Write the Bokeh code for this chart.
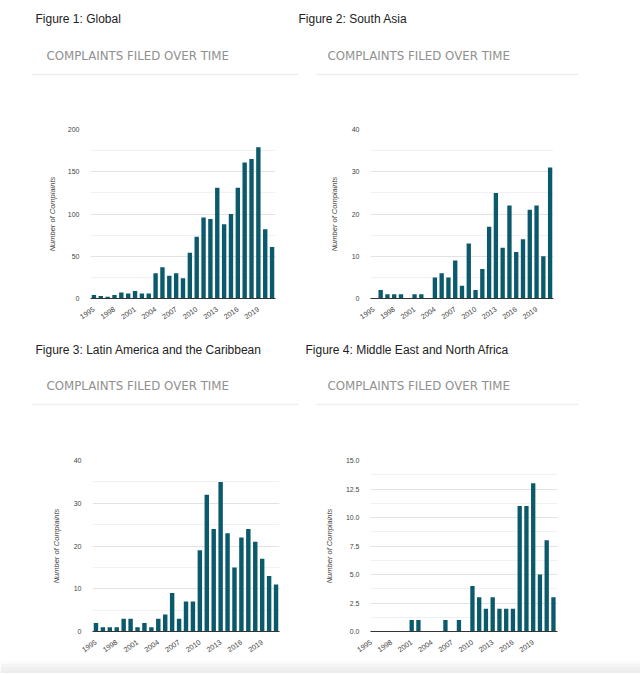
import math
from bokeh.plotting import figure
from bokeh.models import ColumnDataSource, FixedTicker, SingleIntervalTicker, NumeralTickFormatter, Range1d
from bokeh.layouts import column, row
from bokeh.embed import file_html
from bokeh.resources import INLINE
from bokeh.core.properties import value

# ---------------- data ----------------
years_1995_2021 = list(range(1995, 2022))
years_1995_2022 = list(range(1995, 2023))
global_counts = [4, 3, 2, 4, 7, 6, 9, 6, 6, 30, 37, 27, 30, 24, 54, 73, 96, 94, 131, 88, 100, 131, 161, 165, 179, 82, 61]
south_asia_counts = [0, 2, 1, 1, 1, 0, 1, 1, 0, 5, 6, 5, 9, 3, 13, 2, 7, 17, 25, 12, 22, 11, 14, 21, 22, 10, 31]
latam_counts = [2, 1, 1, 1, 3, 3, 1, 2, 1, 3, 4, 9, 3, 7, 7, 19, 32, 24, 35, 23, 15, 22, 24, 21, 17, 13, 11]
mena_counts = [0, 0, 0, 0, 0, 0, 1, 1, 0, 0, 0, 1, 0, 1, 0, 4, 3, 2, 3, 2, 2, 2, 11, 11, 13, 5, 8, 3]
x_tick_years = [1995, 1998, 2001, 2004, 2007, 2010, 2013, 2016, 2019]

captions_top = ["Figure 1: Global", "Figure 2: South Asia"]
captions_bottom = ["Figure 3: Latin America and the Caribbean", "Figure 4: Middle East and North Africa"]
subtitle = "COMPLAINTS FILED OVER TIME"
y_axis_title = "Number of Complaints"

BAR = "#0b5a6b"
TXT = "#444444"
W = 640
footer_shades = ["#fbfbfb", "#f5f5f5", "#f0f0f0", "#ececec"]


def make_header(height, y_top, cap_x, cap_y, sub_x, sub_y, line_x0, line_x1, line_y, captions):
    h = figure(width=W, height=height, x_range=Range1d(0, W), y_range=Range1d(y_top + height, y_top),
               x_axis_type=None, y_axis_type=None, min_border=0, toolbar_location=None,
               output_backend="svg")
    h.outline_line_color = None
    h.grid.visible = False
    h.text(x=cap_x, y=[cap_y] * len(cap_x), text=captions, text_font=value("Liberation Sans"),
           text_font_size="12px", text_color="#222222", text_baseline="middle", text_align="left")
    h.text(x=sub_x, y=[sub_y] * len(sub_x), text=[subtitle] * len(sub_x), text_font=value("DejaVu Sans"),
           text_font_size="11.8px", text_color="#909090", text_baseline="middle", text_align="left")
    h.segment(x0=line_x0, y0=[line_y] * len(line_x0), x1=line_x1, y1=[line_y] * len(line_x1),
              line_color="#ededed", line_width=1.5)
    return h


def make_chart(years, counts, y_max, y_interval, x_range, width, height, bl, br, bt, bb,
               label_standoff, fmt=None):
    src = ColumnDataSource(data=dict(year=years, count=counts))
    p = figure(width=width, height=height, x_range=Range1d(*x_range), y_range=Range1d(0, y_max),
               output_backend="svg", toolbar_location=None,
               min_border_left=bl, min_border_right=br, min_border_top=bt, min_border_bottom=bb)
    p.vbar(x="year", top="count", width=0.64, source=src, fill_color=BAR, line_color=None)
    p.outline_line_color = None
    p.xgrid.visible = False
    p.ygrid.grid_line_color = "#e2e2e2"
    p.ygrid.minor_grid_line_color = "#f1f1f1"
    yt = SingleIntervalTicker(interval=y_interval, num_minor_ticks=2)
    p.yaxis.ticker = yt
    p.ygrid.ticker = yt
    if fmt:
        p.yaxis.formatter = NumeralTickFormatter(format=fmt)
    p.yaxis.axis_line_color = None
    p.yaxis.major_tick_line_color = None
    p.yaxis.minor_tick_line_color = None
    p.yaxis.major_label_text_font = "Liberation Sans"
    p.yaxis.major_label_text_font_size = "7px"
    p.yaxis.major_label_text_color = TXT
    p.yaxis.major_label_standoff = 5
    p.yaxis.axis_label = y_axis_title
    p.yaxis.axis_label_text_font = "Liberation Sans"
    p.yaxis.axis_label_text_font_style = "italic"
    p.yaxis.axis_label_text_font_size = "7.5px"
    p.yaxis.axis_label_text_color = TXT
    p.yaxis.axis_label_standoff = label_standoff

    p.xaxis.ticker = FixedTicker(ticks=x_tick_years)
    p.xaxis.major_label_orientation = 0.6
    p.xaxis.major_label_text_font = "Liberation Sans"
    p.xaxis.major_label_text_font_size = "7.2px"
    p.xaxis.major_label_text_color = TXT
    p.xaxis.major_tick_line_color = None
    p.xaxis.minor_tick_line_color = None
    p.xaxis.axis_line_color = "#333333"
    p.xaxis.major_label_standoff = 4
    return p


header_top = make_header(90, 0, cap_x=[35, 298], cap_y=18, sub_x=[46, 327], sub_y=55,
                         line_x0=[32, 316], line_x1=[298, 578], line_y=74, captions=captions_top)
c1 = make_chart(years_1995_2021, global_counts, 200, 50, (1994.5, 2021.5), 310, 248, 90, 35, 39, 39, 8)
c2 = make_chart(years_1995_2021, south_asia_counts, 40, 10, (1994.5, 2021.5), 330, 248, 60, 87, 39, 40, 10)
header_bottom = make_header(82, 338, cap_x=[35, 305], cap_y=349, sub_x=[46, 327], sub_y=385,
                            line_x0=[32, 316], line_x1=[298, 578], line_y=404, captions=captions_bottom)
c3 = make_chart(years_1995_2021, latam_counts, 40, 10, (1994.5, 2021.5), 310, 240, 92, 31, 40, 27, 10)
c4 = make_chart(years_1995_2022, mena_counts, 15, 2.5, (1994.9, 2022.6), 330, 240, 60, 83, 38, 29, 9, fmt="0.0")

n_shades = len(footer_shades)
footer = figure(width=W, height=13, x_range=Range1d(0, 1), y_range=Range1d(n_shades, 0),
                x_axis_type=None, y_axis_type=None, min_border=0, toolbar_location=None,
                output_backend="svg")
footer.outline_line_color = None
footer.grid.visible = False
footer.quad(left=[0] * n_shades, right=[1] * n_shades, top=list(range(n_shades)),
            bottom=list(range(1, n_shades + 1)), fill_color=footer_shades, line_color=None)

layout = column(header_top, row(c1, c2), header_bottom, row(c3, c4), footer)
open("out.html", "w").write(file_html(layout, INLINE))
